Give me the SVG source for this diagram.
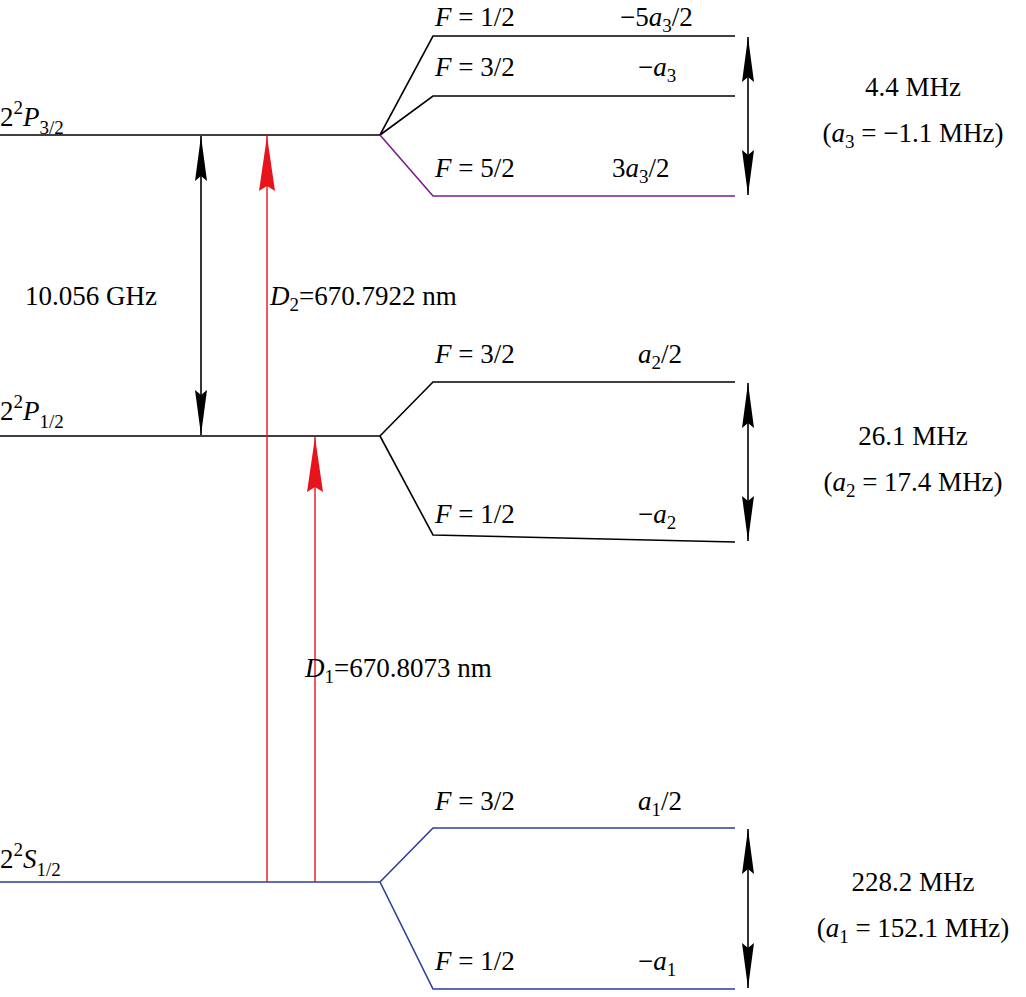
<svg xmlns="http://www.w3.org/2000/svg" width="1026" height="997" viewBox="0 0 1026 997" font-family="'Liberation Serif', 'DejaVu Serif', serif">
<style>
text{font-family:'Liberation Serif','DejaVu Serif',serif;font-size:27px;fill:#000}
.i{font-style:italic}
.s{font-size:19px}
.m{text-anchor:middle}
.k{stroke:#000;stroke-width:1.6;fill:none}
.p{stroke:#7a1f8a;stroke-width:1.6;fill:none}
.b{stroke:#2a3f9a;stroke-width:1.6;fill:none}
.r{stroke:#e8141c;stroke-width:1.4;fill:none}
</style>
<defs>
<marker id="ah" markerWidth="45" markerHeight="12" refX="45" refY="6" orient="auto-start-reverse" markerUnits="userSpaceOnUse" viewBox="0 0 45 12"><path d="M45 6 L0 0 L5 6 L0 12 Z" fill="#000"/></marker>
<marker id="rh" markerWidth="55" markerHeight="16" refX="55" refY="8" orient="auto" markerUnits="userSpaceOnUse" viewBox="0 0 55 16"><path d="M55 8 L0 0 L5 8 L0 16 Z" fill="#e8141c"/></marker>
</defs>
<g id="levelP32">
<path class="k" d="M0 135 H380 L433 36 H735 M380 135 L433 96 H735"/>
<path class="p" d="M380 135 L433 196 H735"/>
<text x="0" y="126">2<tspan class="s" dy="-12">2</tspan><tspan class="i" dy="12">P</tspan><tspan class="s" dy="8">3/2</tspan></text>
<text x="435" y="26"><tspan class="i">F</tspan> = 1/2</text>
<text x="620" y="26">−5<tspan class="i">a</tspan><tspan class="s" dy="6">3</tspan><tspan dy="-6">/2</tspan></text>
<text x="435" y="76"><tspan class="i">F</tspan> = 3/2</text>
<text x="638" y="76">−<tspan class="i">a</tspan><tspan class="s" dy="6">3</tspan></text>
<text x="435" y="177"><tspan class="i">F</tspan> = 5/2</text>
<text x="612" y="177">3<tspan class="i">a</tspan><tspan class="s" dy="6">3</tspan><tspan dy="-6">/2</tspan></text>
<text class="m" x="913" y="96">4.4 MHz</text>
<text class="m" x="913" y="142">(<tspan class="i">a</tspan><tspan class="s" dy="6">3</tspan><tspan dy="-6"> = −1.1 MHz)</tspan></text>
</g>
<g id="levelP12">
<path class="k" d="M0 436 H380 L433 382 H735 M380 436 L433 535 L735 542"/>
<text x="0" y="420">2<tspan class="s" dy="-12">2</tspan><tspan class="i" dy="12">P</tspan><tspan class="s" dy="8">1/2</tspan></text>
<text x="435" y="363"><tspan class="i">F</tspan> = 3/2</text>
<text x="638" y="363"><tspan class="i">a</tspan><tspan class="s" dy="6">2</tspan><tspan dy="-6">/2</tspan></text>
<text x="435" y="523"><tspan class="i">F</tspan> = 1/2</text>
<text x="638" y="523">−<tspan class="i">a</tspan><tspan class="s" dy="6">2</tspan></text>
<text class="m" x="913" y="445">26.1 MHz</text>
<text class="m" x="913" y="491">(<tspan class="i">a</tspan><tspan class="s" dy="6">2</tspan><tspan dy="-6"> = 17.4 MHz)</tspan></text>
</g>
<g id="levelS12">
<path class="b" d="M0 882 H380 L433 828 H735 M380 882 L433 989 H735"/>
<text x="0" y="868">2<tspan class="s" dy="-12">2</tspan><tspan class="i" dy="12">S</tspan><tspan class="s" dy="8">1/2</tspan></text>
<text x="435" y="810"><tspan class="i">F</tspan> = 3/2</text>
<text x="638" y="810"><tspan class="i">a</tspan><tspan class="s" dy="6">1</tspan><tspan dy="-6">/2</tspan></text>
<text x="435" y="970"><tspan class="i">F</tspan> = 1/2</text>
<text x="638" y="970">−<tspan class="i">a</tspan><tspan class="s" dy="6">1</tspan></text>
<text class="m" x="913" y="891">228.2 MHz</text>
<text class="m" x="913" y="937">(<tspan class="i">a</tspan><tspan class="s" dy="6">1</tspan><tspan dy="-6"> = 152.1 MHz)</tspan></text>
</g>
<g id="connectors">
<line class="k" x1="748" y1="37" x2="748" y2="195" marker-start="url(#ah)" marker-end="url(#ah)"/>
<line class="k" x1="748" y1="383" x2="748" y2="541" marker-start="url(#ah)" marker-end="url(#ah)"/>
<line class="k" x1="748" y1="829" x2="748" y2="988" marker-start="url(#ah)" marker-end="url(#ah)"/>
<line class="k" x1="201" y1="136" x2="201" y2="435" marker-start="url(#ah)" marker-end="url(#ah)"/>
<line class="r" x1="267" y1="882" x2="267" y2="136" marker-end="url(#rh)"/>
<line class="r" x1="315" y1="882" x2="315" y2="437" marker-end="url(#rh)"/>
<text x="25" y="305">10.056 GHz</text>
<text x="270" y="305"><tspan class="i">D</tspan><tspan class="s" dy="6">2</tspan><tspan dy="-6">=670.7922 nm</tspan></text>
<text x="305" y="677"><tspan class="i">D</tspan><tspan class="s" dy="6">1</tspan><tspan dy="-6">=670.8073 nm</tspan></text>
</g>
</svg>
